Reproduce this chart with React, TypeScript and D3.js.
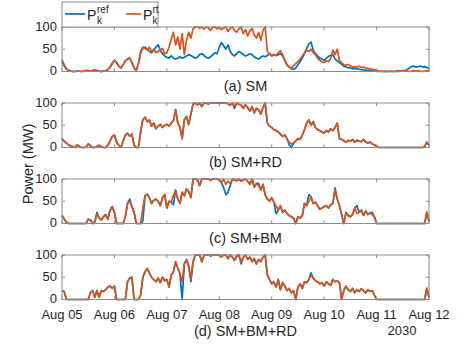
import React from "react";
import * as d3 from "d3";

const panelTitles = ["(a) SM", "(b) SM+RD", "(c) SM+BM", "(d) SM+BM+RD"];
const yTicks = [0, 50, 100];
const startDate = new Date(2030, 7, 5, 0, 0);
const endDate = new Date(2030, 7, 12, 0, 0);

// hourly values, Aug 05 00:00 .. Aug 12 00:00 (169 points)
const refA = [
  26, 15, 6, 3, 1, 0, 0, 1, 1, 0, 1, 2,
  2, 1, 2, 3, 2, 1, 0, 1, 2, 4, 10, 18,
  25, 20, 12, 8, 15, 24, 28, 30, 20, 8, 2, 18,
  42, 52, 55, 50, 45, 42, 48, 55, 60, 48, 40, 35,
  32, 30, 35, 30, 28, 30, 33, 30, 32, 35, 38, 36,
  33, 30, 32, 38, 40, 36, 32, 30, 33, 38, 42, 40,
  55, 65, 58, 50, 60, 45, 38, 35, 40, 45, 42, 38,
  35, 37, 40, 38, 33, 30, 28, 32, 35, 33, 36, 40,
  35, 38, 36, 38, 40, 35, 25, 15, 10, 6, 5, 8,
  15, 22, 30, 40, 52, 62, 66, 48, 40, 35, 30, 28,
  25, 30, 34, 36, 38, 28, 24, 20, 16, 12, 10, 8,
  8, 6, 7, 6, 5, 4, 4, 3, 2, 2, 1, 1,
  0, 0, 0, 0, 0, 0, 0, 0, 0, 0, 0, 1,
  1, 2, 4, 8, 11, 12, 10, 11, 12, 10, 11, 9, 7,
];
const rtA = [
  22, 12, 5, 2, 1, 0, 0, 1, 1, 0, 1, 2,
  2, 1, 2, 3, 2, 1, 0, 1, 2, 4, 10, 18,
  25, 20, 12, 8, 15, 24, 28, 30, 20, 8, 2, 18,
  45, 55, 52, 48, 55, 45, 50, 42, 45, 48, 52, 40,
  42, 55, 72, 88, 60, 78, 50, 85, 38, 70, 88, 75,
  96, 100, 100, 97, 100, 95, 100, 98, 92, 100, 100, 96,
  100, 94, 98, 100, 90, 97, 100, 92, 88, 96, 100, 85,
  94, 80, 92, 97, 82, 75, 88, 70, 92, 100, 45, 40,
  35, 38, 36, 42, 47, 38, 25, 15, 10, 8, 12, 18,
  22, 28, 35, 42, 48, 45, 50, 42, 38, 30, 25, 22,
  20, 24, 22, 30, 48, 38, 50, 25, 20, 15, 14, 16,
  12, 10, 11, 10, 12, 9, 10, 8, 7, 6, 5, 4,
  3, 1, 1, 0, 1, 0, 1, 1, 0, 1, 2, 1,
  2, 1, 1, 0, 1, 2, 1, 2, 1, 0, 1, 2, 1,
];
const refB = [
  20, 14, 10, 6, 3, 2, 0, 6, 2, 0, 0, 1,
  8, 4, 0, 0, 2, 5, 2, 0, 0, 5, 15, 25,
  28, 12, 5, 0, 15, 28, 32, 25, 30, 5, 0, 0,
  35, 62, 68, 58, 62, 48, 55, 42, 48, 52, 45, 50,
  52, 48, 55, 60, 85, 55, 45, 20, 62, 70, 52, 75,
  98, 100, 96, 100, 92, 100, 100, 98, 100, 100, 100, 100,
  100, 100, 100, 100, 98, 95, 100, 88, 100, 97, 95, 88,
  96, 90, 82, 92, 78, 88, 85, 75, 90, 100, 55, 48,
  45, 40, 38, 35, 30, 25, 28, 20, 6, 0, 10, 15,
  20, 18, 28, 40, 55, 62, 50, 58, 45, 40, 38, 35,
  32, 38, 35, 42, 38, 45, 55, 20, 18, 15, 12, 16,
  14, 18, 12, 16, 15, 13, 18, 12, 10, 12, 8, 6,
  3, 0, 0, 0, 0, 0, 0, 0, 0, 0, 0, 0,
  0, 0, 0, 0, 0, 0, 0, 0, 0, 0, 2, 12, 5,
];
const rtB = [
  20, 14, 10, 6, 3, 2, 0, 6, 2, 0, 0, 1,
  8, 4, 0, 0, 2, 5, 2, 0, 0, 5, 15, 25,
  28, 12, 5, 0, 15, 28, 32, 25, 30, 5, 0, 0,
  35, 62, 68, 58, 62, 48, 55, 42, 48, 52, 45, 50,
  52, 48, 55, 60, 85, 55, 45, 20, 62, 70, 52, 75,
  98, 100, 96, 100, 92, 100, 100, 98, 100, 100, 100, 100,
  100, 100, 100, 100, 98, 95, 100, 92, 100, 97, 95, 88,
  96, 90, 82, 92, 78, 88, 85, 75, 90, 100, 55, 48,
  45, 40, 38, 35, 30, 25, 28, 20, 12, 8, 10, 15,
  20, 18, 28, 40, 55, 62, 50, 58, 45, 40, 38, 35,
  32, 38, 35, 42, 38, 45, 55, 20, 18, 15, 12, 16,
  14, 18, 12, 16, 15, 13, 18, 12, 10, 12, 8, 6,
  3, 0, 0, 0, 0, 0, 0, 0, 0, 0, 0, 0,
  0, 0, 0, 0, 0, 0, 0, 0, 0, 0, 2, 12, 5,
];
const refC = [
  18, 10, 3, 0, 0, 0, 0, 0, 0, 0, 0, 0,
  10, 8, 0, 4, 25, 12, 8, 15, 20, 10, 30, 38,
  25, 0, 0, 0, 0, 15, 45, 55, 38, 25, 0, 0,
  0, 5, 62, 66, 58, 45, 52, 55, 50, 40, 58, 65,
  35, 50, 48, 42, 75, 55, 45, 70, 62, 78, 72, 58,
  100, 100, 98, 85, 100, 100, 100, 100, 97, 100, 100, 100,
  98, 92, 80, 65, 70, 85, 100, 98, 96, 100, 95, 98,
  100, 95, 88, 100, 82, 90, 90, 75, 88, 65, 55, 50,
  58, 48, 22, 30, 40, 25, 30, 22, 18, 15, 12, 0,
  15, 12, 18, 45, 40, 65, 60, 45, 48, 40, 32, 35,
  38, 40, 35, 42, 45, 80, 55, 40, 20, 0, 25, 18,
  15, 20, 35, 40, 25, 30, 18, 28, 20, 24, 25, 15,
  0, 0, 0, 0, 0, 0, 0, 0, 0, 0, 0, 0,
  0, 0, 0, 0, 0, 0, 0, 0, 0, 0, 0, 25, 5,
];
const rtC = [
  18, 10, 3, 0, 0, 0, 0, 0, 0, 0, 0, 0,
  10, 8, 0, 4, 22, 12, 8, 15, 20, 10, 30, 38,
  25, 0, 0, 0, 0, 15, 45, 50, 38, 25, 0, 0,
  0, 35, 62, 66, 58, 45, 52, 55, 50, 40, 58, 65,
  35, 50, 48, 62, 75, 55, 45, 70, 62, 78, 72, 58,
  100, 100, 98, 85, 100, 100, 100, 100, 97, 100, 100, 100,
  98, 92, 100, 88, 95, 90, 100, 98, 96, 100, 95, 98,
  100, 95, 88, 100, 82, 90, 85, 75, 88, 65, 55, 50,
  58, 48, 40, 30, 40, 25, 30, 22, 18, 15, 12, 0,
  15, 12, 18, 45, 40, 50, 60, 45, 48, 40, 32, 35,
  38, 40, 35, 42, 45, 75, 55, 40, 20, 0, 25, 18,
  15, 20, 35, 22, 25, 30, 18, 28, 20, 24, 20, 15,
  0, 0, 0, 0, 0, 0, 0, 0, 0, 0, 0, 0,
  0, 0, 0, 0, 0, 0, 0, 0, 0, 0, 0, 25, 5,
];
const refD = [
  20, 18, 0, 0, 0, 0, 0, 0, 0, 0, 0, 0,
  0, 15, 20, 5, 20, 5, 20, 18, 22, 28, 30, 25,
  30, 0, 0, 0, 0, 0, 40, 48, 50, 0, 0, 0,
  10, 50, 62, 70, 60, 50, 45, 40, 48, 38, 50, 42,
  45, 28, 55, 62, 85, 70, 58, 0, 80, 90, 75, 40,
  85, 100, 100, 100, 85, 100, 100, 100, 98, 100, 100, 100,
  100, 96, 100, 100, 92, 100, 95, 88, 98, 100, 80, 95,
  100, 90, 95, 85, 92, 80, 90, 85, 95, 100, 55, 45,
  35, 40, 28, 45, 22, 38, 30, 20, 25, 15, 20, 0,
  28, 35, 25, 40, 38, 45, 60, 48, 42, 40, 35, 38,
  30, 40, 35, 32, 45, 40, 42, 38, 0, 20, 30, 22,
  18, 25, 15, 22, 18, 24, 20, 15, 22, 18, 20, 10,
  0, 0, 0, 0, 0, 0, 0, 0, 0, 0, 0, 0,
  0, 0, 0, 0, 0, 0, 0, 0, 0, 0, 0, 25, 5,
];
const rtD = [
  20, 18, 0, 0, 0, 0, 0, 0, 0, 0, 0, 0,
  0, 15, 20, 5, 20, 5, 20, 18, 22, 28, 30, 25,
  30, 0, 0, 0, 0, 0, 40, 48, 50, 0, 0, 0,
  10, 50, 62, 70, 60, 50, 45, 40, 48, 38, 50, 42,
  45, 28, 55, 62, 85, 70, 58, 40, 80, 90, 75, 45,
  85, 100, 100, 100, 85, 100, 100, 100, 98, 100, 100, 100,
  100, 96, 100, 100, 92, 100, 95, 88, 98, 100, 85, 95,
  100, 90, 95, 85, 92, 80, 90, 85, 95, 100, 55, 45,
  35, 40, 28, 45, 22, 38, 30, 20, 25, 15, 20, 0,
  28, 35, 25, 40, 38, 45, 55, 48, 42, 40, 35, 38,
  30, 40, 35, 32, 45, 40, 42, 38, 0, 20, 30, 22,
  18, 25, 15, 22, 18, 24, 20, 15, 22, 18, 20, 10,
  0, 0, 0, 0, 0, 0, 0, 0, 0, 0, 0, 0,
  0, 0, 0, 0, 0, 0, 0, 0, 0, 0, 0, 25, 5,
];

const refSeries = [refA, refB, refC, refD];
const rtSeries = [rtA, rtB, rtC, rtD];

const BLUE = "#0072BD";
const ORANGE = "#D95319";
const AXIS = "#8a8a8a";
const TEXT = "#262626";
const FONT = "'Liberation Sans', Arial, Helvetica, sans-serif";

export default function App() {
  const W = 474;
  const H = 347;
  const left = 62;
  const right = 429;
  const panelH = 44.5;
  const panelTop = (i: number) => 27 + 76 * i;

  const x = d3.scaleTime().domain([startDate, endDate]).range([left, right]);
  const dayTicks = d3.timeDay.range(startDate, d3.timeDay.offset(endDate, 1));
  const fmt = d3.timeFormat("%b %d");
  const timeOf = (i: number) => d3.timeHour.offset(startDate, i);

  return (
    <svg
      width={W}
      height={H}
      style={{ position: "fixed", left: 0, top: 0, background: "#fff" }}
      fontFamily={FONT}
    >
      <rect x={0} y={0} width={W} height={H} fill="#fff" />
      {refSeries.map((ref, i) => {
        const top = panelTop(i);
        const y = d3.scaleLinear().domain([0, 100]).range([top + panelH, top]);
        const line = d3
          .line<number>()
          .x((_, j) => x(timeOf(j)))
          .y((v) => y(v));
        const isLast = i === 3;
        return (
          <g key={i}>
            <path d={line(ref) || ""} fill="none" stroke={BLUE} strokeWidth={1.7} strokeLinejoin="round" />
            <path d={line(rtSeries[i]) || ""} fill="none" stroke={ORANGE} strokeWidth={1.7} strokeLinejoin="round" />
            <rect x={left} y={top} width={right - left} height={panelH} fill="none" stroke={AXIS} strokeWidth={1} />
            {yTicks.map((t) => (
              <g key={t}>
                <line x1={left} x2={left + 3} y1={y(t)} y2={y(t)} stroke={AXIS} />
                <line x1={right} x2={right - 3} y1={y(t)} y2={y(t)} stroke={AXIS} />
                <text x={57} y={y(t)} dy="0.3em" textAnchor="end" fontSize={13} fill={TEXT}>
                  {t}
                </text>
              </g>
            ))}
            {dayTicks.map((d, k) => (
              <g key={k}>
                <line x1={x(d)} x2={x(d)} y1={top + panelH} y2={top + panelH - 3} stroke={AXIS} />
                <line x1={x(d)} x2={x(d)} y1={top} y2={top + 3} stroke={AXIS} />
                {isLast && (
                  <text x={x(d)} y={318.5} textAnchor="middle" fontSize={13} fill={TEXT}>
                    {fmt(d)}
                  </text>
                )}
              </g>
            ))}
            <text
              x={(left + right) / 2}
              y={isLast ? 336 : top + panelH + 19}
              textAnchor="middle"
              fontSize={14.5}
              fill={TEXT}
            >
              {panelTitles[i]}
            </text>
          </g>
        );
      })}
      <text x={402} y={335} textAnchor="middle" fontSize={13} fill={TEXT}>
        2030
      </text>
      <text
        transform={`translate(33, 164) rotate(-90)`}
        textAnchor="middle"
        fontSize={14.5}
        fill={TEXT}
      >
        Power (MW)
      </text>
      {/* legend */}
      <g>
        <rect x={62} y={2} width={96} height={25} fill="#fff" stroke={AXIS} strokeWidth={1} />
        <line x1={65} x2={85} y1={14} y2={14} stroke={BLUE} strokeWidth={1.7} />
        <text x={87} y={19.5} fontSize={14} fill={TEXT}>
          P
        </text>
        <text x={97} y={13} fontSize={10} fill={TEXT}>
          ref
        </text>
        <text x={97} y={23.5} fontSize={10} fill={TEXT}>
          k
        </text>
        <line x1={126} x2={141} y1={14} y2={14} stroke={ORANGE} strokeWidth={1.7} />
        <text x={143} y={19.5} fontSize={14} fill={TEXT}>
          P
        </text>
        <text x={152.5} y={13} fontSize={10} fill={TEXT}>
          rt
        </text>
        <text x={152.5} y={23.5} fontSize={10} fill={TEXT}>
          k
        </text>
      </g>
    </svg>
  );
}
